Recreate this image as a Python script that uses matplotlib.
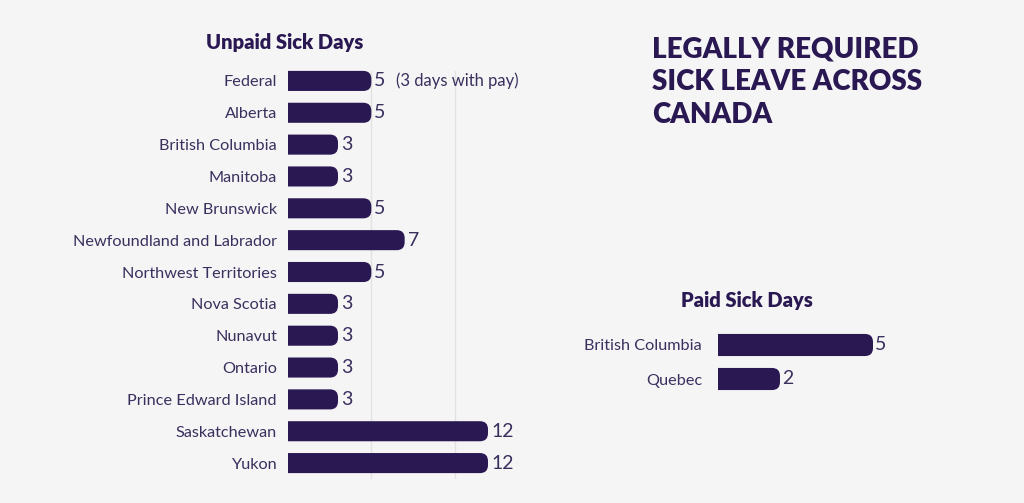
import matplotlib.pyplot as plt
from matplotlib.patches import FancyBboxPatch

# 무급 병가 (주/연방별 일수)
unpaid_regions = ["Federal", "Alberta", "British Columbia", "Manitoba", "New Brunswick",
                  "Newfoundland and Labrador", "Northwest Territories", "Nova Scotia",
                  "Nunavut", "Ontario", "Prince Edward Island", "Saskatchewan", "Yukon"]
unpaid_days = [5, 5, 3, 3, 5, 7, 5, 3, 3, 3, 3, 12, 12]

# 유급 병가
paid_regions = ["British Columbia", "Quebec"]
paid_days = [5, 2]

federal_note = "(3 days with pay)"
main_title = "LEGALLY REQUIRED\nSICK LEAVE ACROSS\nCANADA"

BG = "#f5f5f5"
BAR = "#2a1852"
TXT = "#3b2f5e"
TITLE = "#2a1852"
FONT = "Lato"

fig = plt.figure(figsize=(10.24, 5.03), dpi=100)
fig.patch.set_facecolor(BG)


def rounded_bars(ax, labels, values, height, rad_px):
    # 막대 오른쪽 끝만 둥글게...왼쪽은 축 밖으로 빼서 잘라냄
    fig.canvas.draw()
    x0, x1 = ax.get_xlim()
    y0, y1 = ax.get_ylim()
    bb = ax.get_window_extent()
    xpp = (x1 - x0) / bb.width
    ypp = abs(y1 - y0) / bb.height
    r = rad_px * xpp
    for i, v in enumerate(values):
        p = FancyBboxPatch((-r * 2, i - height / 2), v + r * 2, height,
                           boxstyle=f"round,pad=0,rounding_size={r}",
                           mutation_aspect=ypp / xpp,
                           fc=BAR, ec="none", clip_on=True, zorder=3)
        ax.add_patch(p)


def setup(ax, labels, values, xmax, height, valsize, pad):
    ax.set_facecolor("none")
    ax.set_xlim(0, xmax)
    ax.set_ylim(len(labels) - 0.5, -0.5)
    for s in ax.spines.values():
        s.set_visible(False)
    ax.set_yticks(range(len(labels)))
    ax.set_yticklabels(labels, fontsize=11.7, color=TXT, family=FONT)
    ax.tick_params(axis="y", length=0, pad=pad)
    ax.set_xticks([])
    rounded_bars(ax, labels, values, height, 8)
    for i, v in enumerate(values):
        ax.text(v + xmax * 0.012, i, str(v), va="center", ha="left",
                fontsize=valsize, color=TXT, family=FONT, clip_on=False)


# 왼쪽: 무급
ax1 = fig.add_axes([288 / 1024, 24 / 503, 250 / 1024, 414 / 503])
for g in [5, 10]:
    ax1.axvline(g, color="#e2e2e2", lw=1, zorder=1, ymin=0, ymax=0.985)
setup(ax1, unpaid_regions, unpaid_days, 15, 0.63, 14, 8)
ax1.text(unpaid_days[0] + 1.45, 0, federal_note, va="center", ha="left",
         fontsize=12, color=TXT, family=FONT, clip_on=False)
fig.text(285 / 1024, 1 - 43 / 503, "Unpaid Sick Days", ha="center", va="center",
         fontsize=14.5, fontweight="heavy", color=TITLE, family=FONT)

# 오른쪽: 유급
ax2 = fig.add_axes([718 / 1024, 107 / 503, 186 / 1024, 68 / 503])
setup(ax2, paid_regions, paid_days, 6, 0.65, 14, 11.5)
fig.text(747 / 1024, 1 - 301 / 503, "Paid Sick Days", ha="center", va="center",
         fontsize=14.5, fontweight="heavy", color=TITLE, family=FONT)

# 큰 제목
fig.text(652 / 1024, 1 - 37 / 503, main_title, ha="left", va="top",
         fontsize=20, fontweight="heavy", color=TITLE, family=FONT,
         linespacing=1.3)

fig.savefig("out.png", dpi=100, facecolor=BG)
